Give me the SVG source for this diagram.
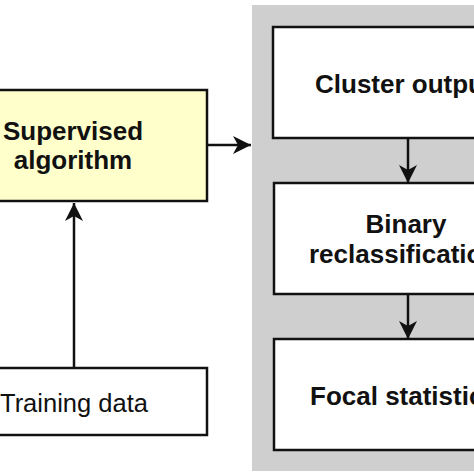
<svg xmlns="http://www.w3.org/2000/svg" width="474" height="474" viewBox="0 0 474 474">
<defs>
<style>
.box{fill:#fff;stroke:#111;stroke-width:2.5}
.yel{fill:#ffffcc;stroke:#111;stroke-width:2.5}
.b{font-family:"Liberation Sans",Arial,sans-serif;font-weight:bold;font-size:26px;fill:#111}
.r{font-family:"Liberation Sans",Arial,sans-serif;font-size:25.5px;fill:#111}
.c{fill:none;stroke:#111;stroke-width:2.5}
</style>
<marker id="ah" markerUnits="userSpaceOnUse" markerWidth="20" markerHeight="20" refX="18" refY="9" orient="auto">
<path d="M0,0 L18,9 L0,18 L5,9 z" fill="#111"/>
</marker>
</defs>
<rect width="474" height="474" fill="#fff"/>
<rect id="panel" x="252" y="5" width="230" height="466" fill="#cfcfcf"/>
<g id="supervised">
<rect class="yel" x="-10" y="90" width="217" height="111"/>
<text class="b" x="73" y="140" text-anchor="middle">Supervised</text>
<text class="b" x="73" y="169" text-anchor="middle">algorithm</text>
</g>
<g id="training">
<rect class="box" x="-10" y="368" width="217" height="67"/>
<text class="r" x="0" y="412">Training data</text>
</g>
<g id="cluster">
<rect class="box" x="273" y="27" width="220" height="111"/>
<text class="b" x="315" y="93">Cluster output</text>
</g>
<g id="binary">
<rect class="box" x="274" y="183" width="220" height="111"/>
<text class="b" x="406" y="233" text-anchor="middle">Binary</text>
<text class="b" x="309" y="263">reclassification</text>
</g>
<g id="focal">
<rect class="box" x="274" y="339" width="220" height="111"/>
<text class="b" x="310" y="405">Focal statistics</text>
</g>
<g id="connectors">
<line class="c" x1="207" y1="145" x2="251" y2="145" marker-end="url(#ah)"/>
<line class="c" x1="74" y1="368" x2="74" y2="203" marker-end="url(#ah)"/>
<line class="c" x1="408" y1="138" x2="408" y2="183" marker-end="url(#ah)"/>
<line class="c" x1="408" y1="294" x2="408" y2="339" marker-end="url(#ah)"/>
</g>
</svg>
